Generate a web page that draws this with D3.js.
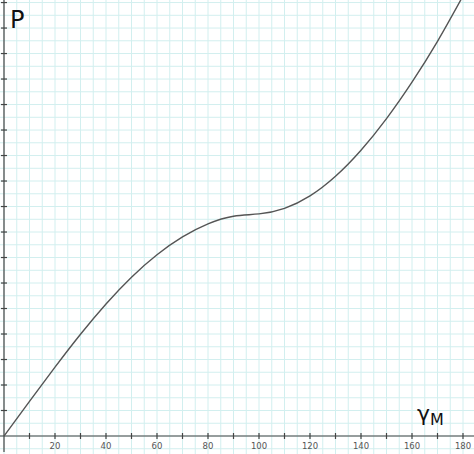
<!DOCTYPE html>
<html>
<head>
<meta charset="utf-8">
<script src="https://cdn.jsdelivr.net/npm/d3@7"></script>
<style>
html,body{margin:0;padding:0;background:#fff;}
svg{display:block;}
</style>
</head>
<body>
<script>
// Data
const gammaM = [0, 10, 20, 30, 40, 50, 60, 70, 80, 90, 100, 110, 120, 130, 140, 150, 160, 170, 180];
const P      = [0, 13.6, 27.0, 39.9, 51.8, 62.3, 71.1, 78.1, 83.2, 86.2, 87.1, 89.3, 94.2, 101.9, 112.1, 124.5, 138.8, 154.8, 172.6];
const xTickValues = [10,20,30,40,50,60,70,80,90,100,110,120,130,140,150,160,170,180];
const xTickLabels = [20,40,60,80,100,120,140,160,180];
const yTickValues = [10,20,30,40,50,60,70,80,90,100,110,120,130,140,150,160,170];

const W = 474, H = 454;
const x = d3.scaleLinear().domain([0, 180]).range([4, 463]);
const y = d3.scaleLinear().domain([0, 171]).range([436, 0]);

const svg = d3.select("body").append("svg").attr("width", W).attr("height", H);

// grid
const gx = d3.range(-5, 190, 5), gy = d3.range(-10, 176, 5);
svg.append("g").selectAll("line").data(gx).join("line")
  .attr("x1", d => x(d)).attr("x2", d => x(d)).attr("y1", 0).attr("y2", H)
  .attr("stroke", "#d2efef").attr("stroke-width", 1);
svg.append("g").selectAll("line").data(gy).join("line")
  .attr("y1", d => y(d)).attr("y2", d => y(d)).attr("x1", 0).attr("x2", W)
  .attr("stroke", "#d2efef").attr("stroke-width", 1);

// x axis
const xa = svg.append("g");
xa.append("line").attr("x1", 0).attr("x2", W).attr("y1", y(0)).attr("y2", y(0))
  .attr("stroke", "#444").attr("stroke-width", 1.2);
xa.selectAll("line.t").data(xTickValues).join("line").attr("class","t")
  .attr("x1", d => x(d)).attr("x2", d => x(d)).attr("y1", y(0) - 3).attr("y2", y(0) + 3)
  .attr("stroke", "#444").attr("stroke-width", 1.2);
xa.selectAll("text").data(xTickLabels).join("text")
  .attr("x", d => x(d)).attr("y", y(0) + 13)
  .attr("text-anchor", "middle")
  .attr("font-family", "DejaVu Sans, sans-serif").attr("font-size", 8.5)
  .attr("fill", "#555").text(d => d);

// y axis
const ya = svg.append("g");
ya.append("line").attr("x1", x(0)).attr("x2", x(0)).attr("y1", 0).attr("y2", H - 2)
  .attr("stroke", "#444").attr("stroke-width", 1.2);
ya.selectAll("line.t").data(yTickValues).join("line").attr("class","t")
  .attr("x1", x(0) - 3).attr("x2", x(0) + 3).attr("y1", d => y(d)).attr("y2", d => y(d))
  .attr("stroke", "#444").attr("stroke-width", 1.2);

// curve
const line = d3.line().x((d, i) => x(gammaM[i])).y(d => y(d)).curve(d3.curveNatural);
svg.append("path").datum(P).attr("d", line)
  .attr("fill", "none").attr("stroke", "#555").attr("stroke-width", 1.4);

// labels
svg.append("text").attr("x", 10).attr("y", 28)
  .attr("font-family", "DejaVu Sans, sans-serif").attr("font-size", 24)
  .attr("fill", "#111").text("P");
const g = svg.append("text").attr("x", 417).attr("y", 421)
  .attr("font-family", "DejaVu Sans, sans-serif").attr("fill", "#111");
g.append("tspan").attr("font-size", 22).text("γ");
g.append("tspan").attr("font-size", 16).attr("dy", 4).text("M");
</script>
</body>
</html>
